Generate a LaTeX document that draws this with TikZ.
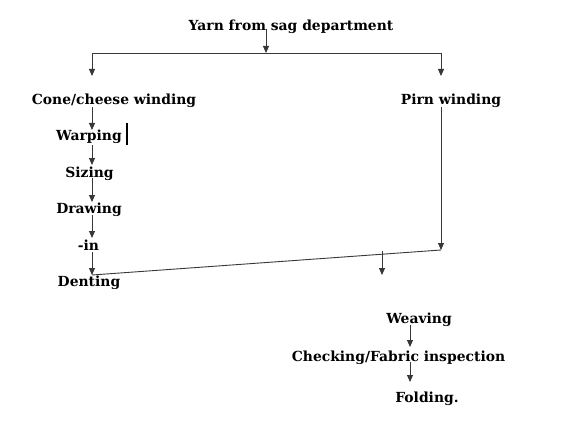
\documentclass[tikz,border=0pt]{standalone}
\usepackage{fontspec}
\setmainfont{DejaVu Serif}
\usetikzlibrary{arrows.meta}
\begin{document}
\begin{tikzpicture}[x=1pt,y=-1pt,
  lbl/.style={inner sep=0pt,font=\bfseries\fontsize{13.9}{15}\selectfont,text=black,yshift=-1.5pt},
  ln/.style={draw=black!78,line width=0.9pt},
  arr/.style={ln,-{Triangle[width=6pt,length=7pt]}}]
\useasboundingbox[fill=white] (0,0) rectangle (562,425);
% nodes
\node[lbl] (yarn) at (291,25) {Yarn from sag department};
\node[lbl] (cone) at (114,99) {Cone/cheese winding};
\node[lbl] (pirn) at (451,99) {Pirn winding};
\node[lbl] (warp) at (89,135) {Warping};
\node[lbl] (size) at (89.5,172) {Sizing};
\node[lbl] (draw) at (89,208) {Drawing};
\node[lbl] (in) at (88.5,244) {-in};
\node[lbl] (dent) at (89,281) {Denting};
\node[lbl] (weav) at (419,318) {Weaving};
\node[lbl] (chk) at (398.5,356) {Checking/Fabric inspection};
\node[lbl] (fold) at (427,397) {Folding.};
% coordinates
\coordinate (t0) at (266,29);
\coordinate (j0) at (266,53);
\coordinate (jl) at (92,53);
\coordinate (jr) at (441,53);
\coordinate (cl) at (92,76);
\coordinate (pr) at (441,76);
\coordinate (c1) at (92,107);
\coordinate (w1) at (92,130);
\coordinate (w2) at (92,145);
\coordinate (s1) at (92,165);
\coordinate (s2) at (92,178);
\coordinate (d1) at (92,202);
\coordinate (d2) at (92,215);
\coordinate (i1) at (92,238);
\coordinate (i2) at (92,252);
\coordinate (e1) at (92,275);
\coordinate (p1) at (441,107);
\coordinate (p2) at (441,250);
\coordinate (m0) at (382,251);
\coordinate (m1) at (382,275);
\coordinate (v1) at (410,325);
\coordinate (v2) at (410,347);
\coordinate (k1) at (410,362);
\coordinate (k2) at (410,382);
\coordinate (cur1) at (127,123);
\coordinate (cur2) at (127,145);
% connectors
\draw[arr] (t0) -- (j0);
\draw[ln] (jl) -- (jr);
\draw[arr] (jl) -- (cl);
\draw[arr] (jr) -- (pr);
\draw[arr] (c1) -- (w1);
\draw[arr] (w2) -- (s1);
\draw[arr] (s2) -- (d1);
\draw[arr] (d2) -- (i1);
\draw[arr] (i2) -- (e1);
\draw[arr] (p1) -- (p2);
\draw[ln] (e1) -- (p2);
\draw[arr] (m0) -- (m1);
\draw[arr] (v1) -- (v2);
\draw[arr] (k1) -- (k2);
\draw[line width=1.1pt,black] (cur1) -- (cur2);
\end{tikzpicture}
\end{document}
